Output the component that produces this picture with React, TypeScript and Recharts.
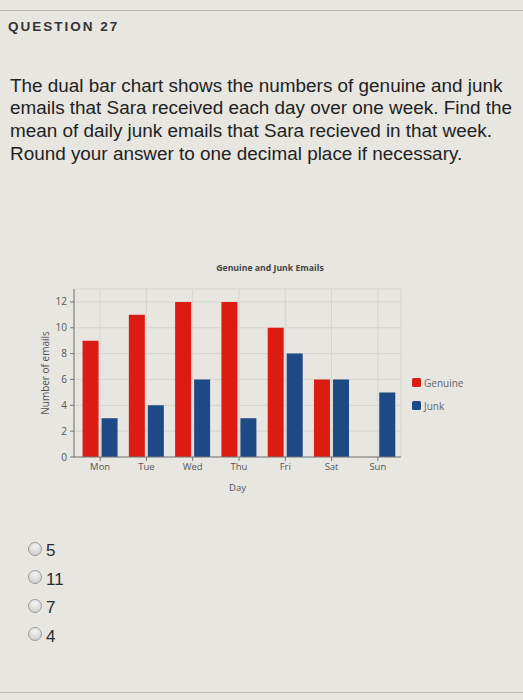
import React from 'react';
import {
  BarChart,
  Bar,
  XAxis,
  YAxis,
  CartesianGrid,
} from 'recharts';

const days = ['Mon', 'Tue', 'Wed', 'Thu', 'Fri', 'Sat', 'Sun'];
const genuine = [9, 11, 12, 12, 10, 6, 0];
const junk = [3, 4, 6, 3, 8, 6, 5];
const yTicks = [0, 2, 4, 6, 8, 10, 12];
const options = ['5', '11', '7', '4'];
const questionLines = [
  'The dual bar chart shows the numbers of genuine and junk',
  'emails that Sara received each day over one week. Find the',
  'mean of daily junk emails that Sara recieved in that week.',
  'Round your answer to one decimal place if necessary.',
];

const series = [
  { key: 'genuine', name: 'Genuine', color: '#dc1c13' },
  { key: 'junk', name: 'Junk', color: '#1d4a84' },
];

const data = days.map((day, i) => ({ day, genuine: genuine[i], junk: junk[i] }));

const chartFont = '"Open Sans", "DejaVu Sans", sans-serif';
const pageFont = '"Liberation Sans", Arial, Helvetica, sans-serif';

function YLabel(props: any) {
  const vb = props.viewBox || {};
  const x = 45;
  const y = vb.y + vb.height / 2;
  return (
    <text
      x={x}
      y={y}
      transform={`rotate(-90, ${x}, ${y})`}
      textAnchor="middle"
      dominantBaseline="central"
      fontSize={10}
      fill="#555"
      fontFamily={chartFont}
    >
      Number of emails
    </text>
  );
}

function XLabel(props: any) {
  const vb = props.viewBox || {};
  return (
    <text
      x={vb.x + vb.width / 2}
      y={232}
      textAnchor="middle"
      dominantBaseline="central"
      fontSize={9.5}
      fill="#555"
      fontFamily={chartFont}
    >
      Day
    </text>
  );
}

function Radio({ label, top }: { label: string; top: number }) {
  return (
    <div style={{ position: 'absolute', left: 28, top, display: 'flex', alignItems: 'center' }}>
      <div
        style={{
          width: 14,
          height: 14,
          borderRadius: '50%',
          border: '1px solid #9a9a9a',
          background: 'radial-gradient(circle at 50% 30%, #f4f4f4, #c8c8c8)',
          boxSizing: 'border-box',
        }}
      />
      <span style={{ marginLeft: 4, fontSize: 17, color: '#2a2a2a', fontFamily: pageFont, lineHeight: '17px', marginTop: 4 }}>
        {label}
      </span>
    </div>
  );
}

export default function App() {
  return (
    <div
      style={{
        position: 'fixed',
        left: 0,
        top: 0,
        width: 523,
        height: 700,
        background: '#e8e6e1',
        overflow: 'hidden',
        fontFamily: pageFont,
      }}
    >
      <div style={{ position: 'absolute', left: 0, top: 10, width: 523, height: 1, background: '#b9b7b3' }} />
      <div
        style={{
          position: 'absolute',
          left: 8,
          top: 19,
          fontSize: 13.5,
          fontWeight: 'bold',
          letterSpacing: 2,
          color: '#333',
        }}
      >
        QUESTION 27
      </div>
      <div
        style={{
          position: 'absolute',
          left: 10,
          top: 74.5,
          fontSize: 18.9,
          lineHeight: '22.7px',
          color: '#222',
          whiteSpace: 'nowrap',
        }}
      >
        {questionLines.map((line) => (
          <div key={line}>{line}</div>
        ))}
      </div>

      <div
        style={{
          position: 'absolute',
          left: 170,
          top: 262,
          width: 200,
          textAlign: 'center',
          fontSize: 8.7,
          fontWeight: 'bold',
          color: '#444',
          fontFamily: chartFont,
        }}
      >
        Genuine and Junk Emails
      </div>

      <div style={{ position: 'absolute', left: 0, top: 255, width: 523, height: 250 }}>
        <BarChart
          width={523}
          height={250}
          data={data}
          margin={{ top: 34, right: 122, bottom: 8, left: 0 }}
          barCategoryGap="12%"
          barGap={3}
        >
          <CartesianGrid stroke="#d6d4cf" strokeWidth={1} />
          <XAxis
            dataKey="day"
            height={40}
            padding={{ left: 3, right: 0 }}
            tick={{ fontSize: 9.5, fill: '#555', fontFamily: chartFont }}
            tickLine={{ stroke: '#777' }}
            axisLine={{ stroke: '#777' }}
            tickSize={4}
            tickMargin={2}
            label={<XLabel />}
          />
          <YAxis
            width={74}
            domain={[0, 13]}
            ticks={yTicks}
            tick={{ fontSize: 10, fill: '#555', fontFamily: chartFont }}
            tickLine={{ stroke: '#777' }}
            axisLine={{ stroke: '#777' }}
            tickSize={4}
            tickMargin={3}
            label={<YLabel />}
          />
          {series.map((s) => (
            <Bar key={s.key} dataKey={s.key} name={s.name} fill={s.color} isAnimationActive={false} />
          ))}
        </BarChart>
      </div>

      <div style={{ position: 'absolute', left: 412, top: 371, fontFamily: chartFont }}>
        {series.map((s) => (
          <div key={s.key} style={{ display: 'flex', alignItems: 'center', height: 23 }}>
            <div style={{ width: 9, height: 9, borderRadius: 1.5, background: s.color }} />
            <span style={{ marginLeft: 3, fontSize: 10, color: '#666' }}>{s.name}</span>
          </div>
        ))}
      </div>

      {options.map((o, i) => (
        <Radio key={o} label={o} top={538 + i * 28.5} />
      ))}

      <div style={{ position: 'absolute', left: 0, top: 692, width: 523, height: 1, background: '#b9b7b3' }} />
    </div>
  );
}
